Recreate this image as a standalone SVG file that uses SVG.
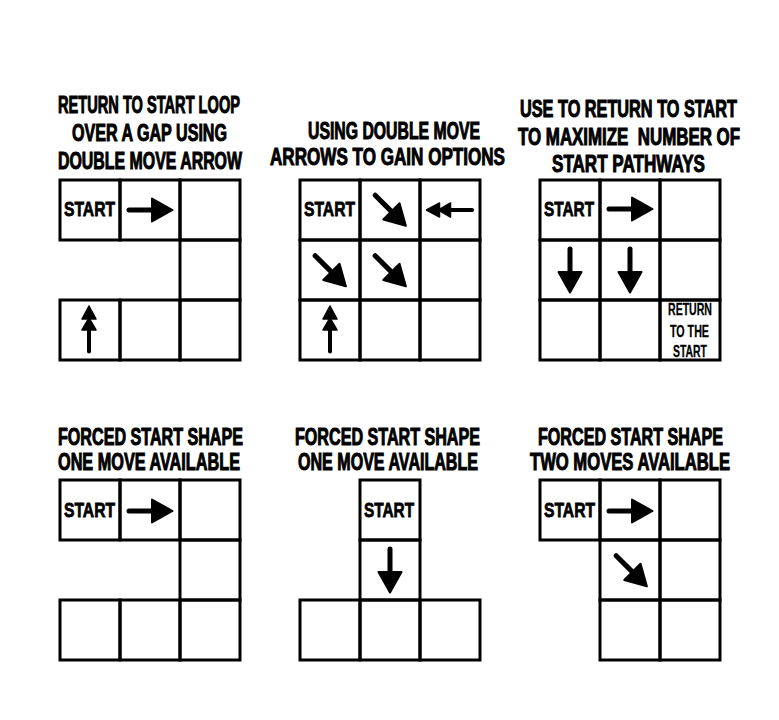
<svg xmlns="http://www.w3.org/2000/svg" xmlns:xlink="http://www.w3.org/1999/xlink" width="779" height="720" viewBox="0 0 779 720">
<style>
.t{font-family:"Liberation Sans",Arial,sans-serif;font-weight:bold;font-size:23px;fill:#000;stroke:#000;stroke-width:1px;}
.s{font-family:"Liberation Sans",Arial,sans-serif;font-weight:bold;font-size:21px;fill:#000;stroke:#000;stroke-width:0.8px;}
.r{font-family:"Liberation Sans",Arial,sans-serif;font-weight:bold;font-size:16.5px;fill:#000;stroke:#000;stroke-width:0.3px;}
.c{fill:none;stroke:#000;stroke-width:3;}
</style>
<defs>
<g id="arr">
<line x1="-21" y1="0" x2="3" y2="0" stroke="#000" stroke-width="5" stroke-linecap="round"/>
<polygon points="2,-11.5 22.5,0 2,11.5" fill="#000" stroke="#000" stroke-width="2" stroke-linejoin="round"/>
</g>
<g id="dbl">
<line x1="-22.5" y1="0" x2="2" y2="0" stroke="#000" stroke-width="4" stroke-linecap="round"/>
<polygon points="-1,-7 11,0 -1,7" fill="#000" stroke="#000" stroke-width="1.5" stroke-linejoin="round"/>
<polygon points="10,-7 23,0 10,7" fill="#000" stroke="#000" stroke-width="1.5" stroke-linejoin="round"/>
</g>
</defs>
<rect width="779" height="720" fill="#fff"/>

<g id="panel1">
<text class="t" x="58" y="113" textLength="182" lengthAdjust="spacingAndGlyphs">RETURN TO START LOOP</text>
<text class="t" x="72" y="141" textLength="155" lengthAdjust="spacingAndGlyphs">OVER A GAP USING</text>
<text class="t" x="58" y="169" textLength="184" lengthAdjust="spacingAndGlyphs">DOUBLE MOVE ARROW</text>
<rect class="c" x="60" y="180" width="60" height="60"/>
<rect class="c" x="120" y="180" width="60" height="60"/>
<rect class="c" x="180" y="180" width="60" height="60"/>
<rect class="c" x="180" y="240" width="60" height="60"/>
<rect class="c" x="60" y="300" width="60" height="60"/>
<rect class="c" x="120" y="300" width="60" height="60"/>
<rect class="c" x="180" y="300" width="60" height="60"/>
<text class="s" x="64" y="216" textLength="51" lengthAdjust="spacingAndGlyphs">START</text>
<use xlink:href="#arr" transform="translate(150,210)"/>
<use xlink:href="#dbl" transform="translate(89,329) rotate(-90)"/>
</g>

<g id="panel2">
<text class="t" x="308" y="139" textLength="172" lengthAdjust="spacingAndGlyphs">USING DOUBLE MOVE</text>
<text class="t" x="270" y="165" textLength="235" lengthAdjust="spacingAndGlyphs">ARROWS TO GAIN OPTIONS</text>
<rect class="c" x="300" y="180" width="60" height="60"/>
<rect class="c" x="360" y="180" width="60" height="60"/>
<rect class="c" x="420" y="180" width="60" height="60"/>
<rect class="c" x="300" y="240" width="60" height="60"/>
<rect class="c" x="360" y="240" width="60" height="60"/>
<rect class="c" x="420" y="240" width="60" height="60"/>
<rect class="c" x="300" y="300" width="60" height="60"/>
<rect class="c" x="360" y="300" width="60" height="60"/>
<rect class="c" x="420" y="300" width="60" height="60"/>
<text class="s" x="304" y="216" textLength="51" lengthAdjust="spacingAndGlyphs">START</text>
<use xlink:href="#arr" transform="translate(390,210) rotate(45)"/>
<use xlink:href="#dbl" transform="translate(449.5,210) rotate(180)"/>
<use xlink:href="#arr" transform="translate(330,270.5) rotate(45)"/>
<use xlink:href="#arr" transform="translate(390,270.5) rotate(45)"/>
<use xlink:href="#dbl" transform="translate(330,329) rotate(-90)"/>
</g>

<g id="panel3">
<text class="t" x="520" y="117" textLength="217" lengthAdjust="spacingAndGlyphs">USE TO RETURN TO START</text>
<text class="t" x="518" y="145" textLength="222" lengthAdjust="spacingAndGlyphs" xml:space="preserve">TO MAXIMIZE  NUMBER OF</text>
<text class="t" x="552" y="172" textLength="153" lengthAdjust="spacingAndGlyphs">START PATHWAYS</text>
<rect class="c" x="540" y="180" width="60" height="60"/>
<rect class="c" x="600" y="180" width="60" height="60"/>
<rect class="c" x="660" y="180" width="60" height="60"/>
<rect class="c" x="540" y="240" width="60" height="60"/>
<rect class="c" x="600" y="240" width="60" height="60"/>
<rect class="c" x="660" y="240" width="60" height="60"/>
<rect class="c" x="540" y="300" width="60" height="60"/>
<rect class="c" x="600" y="300" width="60" height="60"/>
<rect class="c" x="660" y="300" width="60" height="60"/>
<text class="s" x="544" y="216" textLength="50" lengthAdjust="spacingAndGlyphs">START</text>
<use xlink:href="#arr" transform="translate(630,209)"/>
<use xlink:href="#arr" transform="translate(570,270) rotate(90)"/>
<use xlink:href="#arr" transform="translate(630,270) rotate(90)"/>
<text class="r" x="668" y="315" textLength="44" lengthAdjust="spacingAndGlyphs">RETURN</text>
<text class="r" x="670" y="337" textLength="39" lengthAdjust="spacingAndGlyphs">TO THE</text>
<text class="r" x="673" y="357" textLength="34" lengthAdjust="spacingAndGlyphs">START</text>
</g>

<g id="panel4">
<text class="t" x="58" y="445" textLength="185" lengthAdjust="spacingAndGlyphs">FORCED START SHAPE</text>
<text class="t" x="58" y="470" textLength="182" lengthAdjust="spacingAndGlyphs">ONE MOVE AVAILABLE</text>
<rect class="c" x="60" y="480" width="60" height="60"/>
<rect class="c" x="120" y="480" width="60" height="60"/>
<rect class="c" x="180" y="480" width="60" height="60"/>
<rect class="c" x="180" y="540" width="60" height="60"/>
<rect class="c" x="60" y="600" width="60" height="60"/>
<rect class="c" x="120" y="600" width="60" height="60"/>
<rect class="c" x="180" y="600" width="60" height="60"/>
<text class="s" x="64" y="517" textLength="51" lengthAdjust="spacingAndGlyphs">START</text>
<use xlink:href="#arr" transform="translate(150,511)"/>
</g>

<g id="panel5">
<text class="t" x="295" y="445" textLength="185" lengthAdjust="spacingAndGlyphs">FORCED START SHAPE</text>
<text class="t" x="298" y="470" textLength="180" lengthAdjust="spacingAndGlyphs">ONE MOVE AVAILABLE</text>
<rect class="c" x="360" y="480" width="60" height="60"/>
<rect class="c" x="360" y="540" width="60" height="60"/>
<rect class="c" x="300" y="600" width="60" height="60"/>
<rect class="c" x="360" y="600" width="60" height="60"/>
<rect class="c" x="420" y="600" width="60" height="60"/>
<text class="s" x="364" y="517" textLength="50" lengthAdjust="spacingAndGlyphs">START</text>
<use xlink:href="#arr" transform="translate(390,570) rotate(90)"/>
</g>

<g id="panel6">
<text class="t" x="538" y="445" textLength="185" lengthAdjust="spacingAndGlyphs">FORCED START SHAPE</text>
<text class="t" x="530" y="470" textLength="200" lengthAdjust="spacingAndGlyphs">TWO MOVES AVAILABLE</text>
<rect class="c" x="540" y="480" width="60" height="60"/>
<rect class="c" x="600" y="480" width="60" height="60"/>
<rect class="c" x="660" y="480" width="60" height="60"/>
<rect class="c" x="600" y="540" width="60" height="60"/>
<rect class="c" x="660" y="540" width="60" height="60"/>
<rect class="c" x="600" y="600" width="60" height="60"/>
<rect class="c" x="660" y="600" width="60" height="60"/>
<text class="s" x="544" y="517" textLength="51" lengthAdjust="spacingAndGlyphs">START</text>
<use xlink:href="#arr" transform="translate(630,511)"/>
<use xlink:href="#arr" transform="translate(631,570.5) rotate(45)"/>
</g>
</svg>
